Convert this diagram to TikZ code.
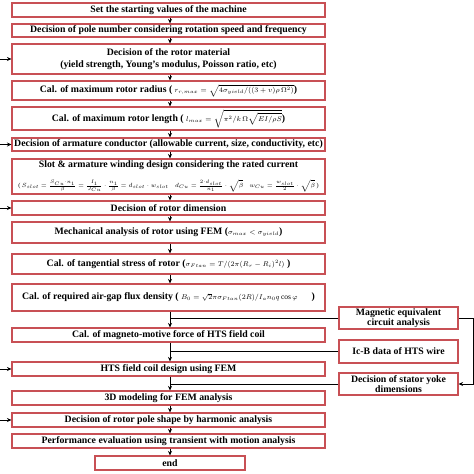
\documentclass[tikz,border=0pt]{standalone}
\usepackage{fontspec}
\setmainfont{Liberation Serif}
\usetikzlibrary{arrows.meta,calc}
\definecolor{boxred}{RGB}{200,80,85}
\tikzset{
  mbox/.style={draw=boxred, line width=1.1pt, fill=white, minimum width=313pt, inner sep=0pt, align=center,
     font=\fontsize{9.8}{11.5}\selectfont\bfseries},
  rbox/.style={draw=boxred, line width=1.1pt, fill=white, minimum width=119pt, inner sep=0pt, align=center,
     font=\fontsize{9.8}{10.5}\selectfont\bfseries},
  arr/.style={-{Stealth[length=4.5pt,width=4pt]}, line width=1pt, black},
  ln/.style={line width=1pt, black}
}
\newcommand{\fm}[1]{{\mdseries\fontsize{7.5}{8}\selectfont$#1$}}
\begin{document}
\begin{tikzpicture}[x=1pt,y=-1pt]
\useasboundingbox (0,0) rectangle (474,474);
\node[mbox, minimum height=14pt] (b1) at (168.5,10) {Set the starting values of the machine};
\node[mbox, minimum height=13pt] (b2) at (168.5,30.5) {Decision of pole number considering rotation speed and frequency};
\node[mbox, minimum height=30pt] (b3) at (168.5,59) {Decision of the rotor material\\(yield strength, Young's modulus, Poisson ratio, etc)};
\node[mbox, minimum height=19pt] (b4) at (168.5,90.5) {Cal. of maximum rotor radius ( \fm{r_{r,max}=\sqrt{4\sigma_{yield}/((3+v)\rho\,\Omega^2)}})};
\node[mbox, minimum height=23pt] (b5) at (168.5,118.5) {Cal. of maximum rotor length ( \fm{l_{max}=\sqrt{\pi^2/k\,\Omega\sqrt{EI/\rho S}}})};
\node[mbox, minimum height=13pt] (b6) at (168.5,144.5) {Decision of armature conductor (allowable current, size, conductivity, etc)};
\node[mbox, minimum height=35pt] (b7t) at (168.5,176.5) {};
\node[font=\fontsize{9.8}{11.5}\selectfont\bfseries, inner sep=0pt, anchor=north] (b7a) at ([yshift=-2pt]b7t.north) {Slot \& armature winding design considering the rated current};
\node[font=\mdseries\fontsize{6.2}{7}\selectfont, inner sep=0pt, anchor=south] (b7b) at ([yshift=2.5pt]b7t.south) {( $S_{slot}=\frac{S_{Cu}\cdot n_1}{\beta}=\frac{I_1}{J_{Cu}}\cdot\frac{n_1}{\beta}=d_{slot}\cdot w_{slot}\quad d_{Cu}=\frac{2\cdot d_{slot}}{n_1}\cdot\sqrt{\beta}\quad w_{Cu}=\frac{w_{slot}}{2}\cdot\sqrt{\beta}$ )};
\node[mbox, minimum height=14pt] (b8) at (168.5,208) {Decision of rotor dimension};
\node[mbox, minimum height=21pt] (b9) at (168.5,232.5) {Mechanical analysis of rotor using FEM (\fm{\sigma_{max}<\sigma_{yield}})};
\node[mbox, minimum height=20pt] (b10) at (168.5,264) {Cal. of tangential stress of rotor (\fm{\sigma_{Ftan}=T/(2\pi(R_r-R_i)^2 l)} )};
\node[mbox, minimum height=27pt] (b11) at (168.5,297.5) {Cal. of required air-gap flux density ( \fm{B_0=\sqrt{2}\pi\sigma_{Ftan}(2R)/I_a n_0 q\cos\varphi}\hspace{14pt})};
\node[mbox, minimum height=14pt] (b12) at (168.5,335) {Cal. of magneto-motive force of HTS field coil};
\node[mbox, minimum height=14pt] (b13) at (168.5,369) {HTS field coil design using FEM};
\node[mbox, minimum height=14pt] (b14) at (168.5,398) {3D modeling for FEM analysis};
\node[mbox, minimum height=14pt] (b15) at (168.5,420) {Decision of rotor pole shape by harmonic analysis};
\node[mbox, minimum height=14pt] (b16) at (168.5,441) {Performance evaluation using transient with motion analysis};
\node[mbox, minimum height=14pt, minimum width=150pt] (b17) at (170,463) {end};

\node[rbox, minimum height=22pt] (r1) at (398.5,318) {Magnetic equivalent\\circuit analysis};
\node[rbox, minimum height=23pt] (r2) at (398.5,351.5) {Ic-B data of HTS wire};
\node[rbox, minimum height=22pt] (r3) at (398.5,384) {Decision of stator yoke\\dimensions};

\foreach \a/\b in {b1/b2,b2/b3,b3/b4,b4/b5,b5/b6,b6/b7t,b7t/b8,b8/b9,b9/b10,b10/b11,b11/b12,b12/b13,b13/b14,b14/b15,b15/b16,b16/b17}
  \draw[arr] (\a.south -| 170,0) -- (\b.north -| 170,0);

\draw[ln] (r1.west) -- (r1.west -| 170,0);
\draw[ln] (r2.west) -- (r2.west -| 170,0);
\draw[ln] (r3.west) -- (r3.west -| 170,0);
\coordinate (rc) at (473,318);
\draw[arr] (r1.east) -- (r1.east -| rc) |- (r3.east);

\foreach \b in {b3,b6,b8,b13,b15}{
  \coordinate (l\b) at (\b.west -| 0,0);
  \draw[arr] (l\b) -- (\b.west);
}
\end{tikzpicture}
\end{document}
